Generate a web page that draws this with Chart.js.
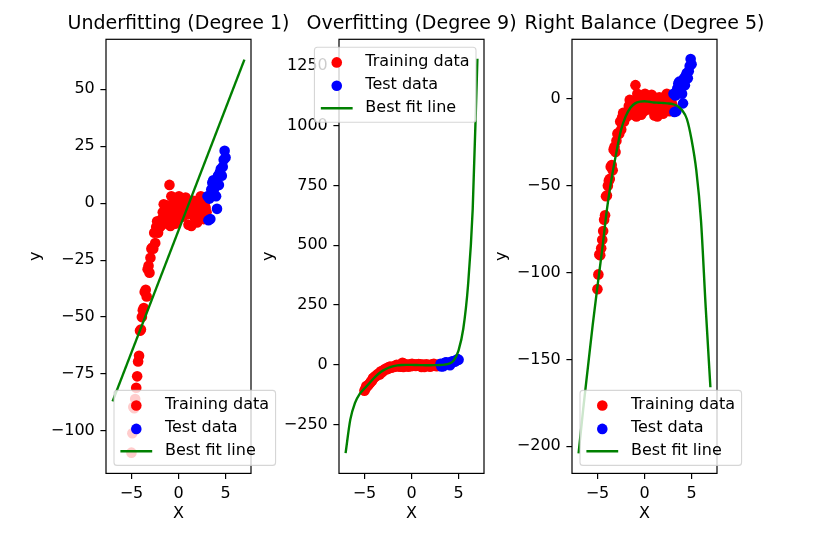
<!DOCTYPE html>
<html>
<head>
<meta charset="utf-8">
<script src="https://cdn.jsdelivr.net/npm/chart.js@4.4.1/dist/chart.umd.min.js"></script>
<style>
  body { margin: 0; background: #fff; }
  #wrap { position: relative; width: 830px; height: 545px; overflow: hidden; }
  canvas { position: absolute; top: 0; }
</style>
</head>
<body>
<div id="wrap">
  <canvas id="under" width="325" height="545" style="left:16px"></canvas>
  <canvas id="over" width="325" height="545" style="left:249px"></canvas>
  <canvas id="right" width="325" height="545" style="left:482px"></canvas>
</div>
<script>
// data (same points in all three panels)
var trainX = [-5.00, -4.90, -4.80, -4.70, -4.60, -4.49, -4.39, -4.29, -4.19, -4.09,
    -3.99, -3.89, -3.79, -3.69, -3.59, -3.48, -3.38, -3.28, -3.18, -3.08,
    -2.98, -2.88, -2.78, -2.68, -2.58, -2.47, -2.37, -2.27, -2.17, -2.07,
    -1.97, -1.87, -1.77, -1.67, -1.57, -1.46, -1.36, -1.26, -1.16, -1.06,
    -0.96, -0.86, -0.76, -0.66, -0.56, -0.45, -0.35, -0.25, -0.15, -0.05,
    0.05, 0.15, 0.25, 0.35, 0.45, 0.56, 0.66, 0.76, 0.86, 0.96,
    1.06, 1.16, 1.26, 1.36, 1.46, 1.57, 1.67, 1.77, 1.87, 1.97,
    2.07, 2.17, 2.27, 2.37, 2.47, 2.58, 2.68, 2.78, 2.88, 2.98];
var trainY = [-109.5, -101, -89.5, -90, -86, -81, -76, -69.5, -67, -56,
    -55.5, -50, -47, -46, -39, -38, -41, -29, -27.5, -30.5,
    -24, -20, -19.5, -20, -13, -17.5, -10.5, -8, -13, -11,
    -8.5, -10, -7, -4, -0.5, -8, -6, -1, -9, -4,
    8, -10, 3, -6, -3.5, 0.5, -9, -2, 1.5, -7,
    3, -4, -1, 1.5, -6, 0, -3, 2.5, -5, 1,
    -9.5, -2, 0.5, -10, -3, 1, -6, -1, -4, -8.5,
    -2, 1.5, -5, 3, -0.5, -3.5, -7, 0, -2, -4];
var testX = [3.08, 3.18, 3.28, 3.38, 3.48, 3.59, 3.69, 3.79, 3.89, 3.99,
    4.09, 4.19, 4.29, 4.39, 4.49, 4.60, 4.70, 4.80, 4.90, 5.00];
var testY = [3, -7.5, 2, -7, 6, 9, 10, 4, 7, 3,
    -2.5, 12, 8, 13.5, 15, 12, 16, 19, 23, 20];

// fitted curves, read at x = -7 .. 7
var fitX1 = [-7, 7];
var fit1Y = [-87, 63];
var fitX = [-7, -6.5, -6, -5.5, -5, -4.5, -4, -3.5, -3, -2.5, -2, -1.5, -1, -0.5, 0,
    0.5, 1, 1.5, 2, 2.5, 3, 3.5, 4, 4.5, 5, 5.5, 6, 6.5, 7];
var fit9Y = [-370, -230, -160, -122, -100, -79, -57, -38, -24, -14, -7, -3, -1.5, -1, -1,
    -1.5, -2, -2.5, -2.5, -2, -1.5, 0, 4, 18, 60, 150, 330, 650, 1280];
var fit5Y = [-204, -178, -154, -130, -108, -87, -64, -46, -31, -18, -10, -5, -2.5, -1.5, -1.3,
    -1.6, -2, -2.1, -2.3, -2.5, -2.9, -4, -6.5, -11.5, -23.5, -41, -70, -120, -166];

var xTicks = [-5, 0, 5];
var yTicks1 = [-100, -75, -50, -25, 0, 25, 50];
var yTicks9 = [-250, 0, 250, 500, 750, 1000, 1250];
var yTicks5 = [-200, -150, -100, -50, 0];

var FONT = 'DejaVu Sans';

function pairs(xs, ys) {
    return xs.map(function (x, i) { return { x: x, y: ys[i] }; });
}

function fmt(v) {
    return v < 0 ? '\u2212' + Math.abs(v) : String(v);
}

// black frame round the plot area, like matplotlib spines
var boxPlugin = {
    id: 'box',
    afterDatasetsDraw: function (chart) {
        var a = chart.chartArea, ctx = chart.ctx;
        ctx.save();
        ctx.strokeStyle = '#000';
        ctx.lineWidth = 1.2;
        ctx.strokeRect(a.left, a.top, a.right - a.left, a.bottom - a.top);
        ctx.restore();
    }
};

// matplotlib-style legend box drawn over the axes
var mplLegend = {
    id: 'mplLegend',
    afterDraw: function (chart, args, opts) {
        var ctx = chart.ctx, a = chart.chartArea;
        var pad = 6.4, handle = 31.8, gap = 12.7, rowH = 15.4, sp = 8;
        var sets = chart.data.datasets;
        ctx.save();
        ctx.font = '16px "' + FONT + '"';
        var tw = 0;
        sets.forEach(function (d) { tw = Math.max(tw, ctx.measureText(d.label).width); });
        var w = pad + handle + gap + tw + pad;
        var h = pad * 2 + rowH * sets.length + sp * (sets.length - 1);
        var x = opts.loc === 'upper right' ? a.right - 8 - w : a.left + 8;
        var y = opts.loc === 'upper right' ? a.top + 8 : a.bottom - 8 - h;
        ctx.beginPath();
        ctx.roundRect(x, y, w, h, 3);
        ctx.fillStyle = 'rgba(255,255,255,0.8)';
        ctx.fill();
        ctx.strokeStyle = 'rgba(204,204,204,0.8)';
        ctx.lineWidth = 1.1;
        ctx.stroke();
        sets.forEach(function (d, i) {
            var cy = y + pad + rowH / 2 + i * (rowH + sp);
            var hx = x + pad;
            if (d.showLine) {
                ctx.strokeStyle = d.borderColor;
                ctx.lineWidth = 2.4;
                ctx.beginPath();
                ctx.moveTo(hx, cy);
                ctx.lineTo(hx + handle, cy);
                ctx.stroke();
            } else {
                ctx.fillStyle = d.backgroundColor;
                ctx.beginPath();
                ctx.arc(hx + handle / 2, cy + 1, 5.3, 0, Math.PI * 2);
                ctx.fill();
            }
            ctx.fillStyle = '#000';
            ctx.textBaseline = 'middle';
            ctx.textAlign = 'left';
            ctx.fillText(d.label, hx + handle + gap, cy);
        });
        ctx.restore();
    }
};

function makeChart(id, title, fx, fy, yMin, yMax, yTicks, loc) {
    var axisGrid = { drawOnChartArea: false, drawTicks: true, tickLength: 5.6, color: '#000', lineWidth: 1.2 };
    return new Chart(document.getElementById(id), {
        type: 'scatter',
        data: {
            datasets: [{
                label: 'Training data',
                data: pairs(trainX, trainY),
                backgroundColor: '#ff0000',
                pointBorderWidth: 0,
                pointRadius: 5.3,
                order: 3,
                clip: 0
            }, {
                label: 'Test data',
                data: pairs(testX, testY),
                backgroundColor: '#0000ff',
                pointBorderWidth: 0,
                pointRadius: 5.3,
                order: 2,
                clip: 0
            }, {
                label: 'Best fit line',
                data: pairs(fx, fy),
                showLine: true,
                borderColor: '#008000',
                backgroundColor: '#008000',
                borderWidth: 2.4,
                pointRadius: 0,
                cubicInterpolationMode: 'monotone',
                fill: false,
                order: 1,
                clip: 0
            }]
        },
        options: {
            responsive: false,
            animation: false,
            devicePixelRatio: 1,
            plugins: {
                legend: { display: false },
                tooltip: { enabled: false },
                title: {
                    display: true,
                    text: title,
                    color: '#000',
                    font: { family: FONT, size: 19, weight: 'normal' },
                    padding: { top: 12.6, bottom: 3.9 }
                },
                mplLegend: { loc: loc }
            },
            scales: {
                x: {
                    type: 'linear',
                    min: -7.7,
                    max: 7.7,
                    afterBuildTicks: function (s) { s.ticks = xTicks.map(function (v) { return { value: v }; }); },
                    afterFit: function (s) { s.height = 71.6; },
                    grid: axisGrid,
                    border: { display: false },
                    ticks: { color: '#000', font: { family: FONT, size: 16 }, padding: 5.6, maxRotation: 0, autoSkip: false, callback: fmt },
                    title: { display: true, text: 'X', color: '#000', font: { family: FONT, size: 16 }, padding: { top: 0, bottom: 21.4 } }
                },
                y: {
                    type: 'linear',
                    min: yMin,
                    max: yMax,
                    afterBuildTicks: function (s) { s.ticks = yTicks.map(function (v) { return { value: v }; }); },
                    afterFit: function (s) { s.width = 90; },
                    grid: axisGrid,
                    border: { display: false },
                    ticks: { color: '#000', font: { family: FONT, size: 16 }, padding: 5.6, autoSkip: false, callback: fmt },
                    title: { display: true, text: 'y', color: '#000', font: { family: FONT, size: 16 }, padding: { top: 10.4, bottom: 0 } }
                },
                // empty right axis, only to keep the plot box centred under the title
                yr: {
                    type: 'linear',
                    position: 'right',
                    afterFit: function (s) { s.width = 90; },
                    grid: { display: false },
                    border: { display: false },
                    ticks: { display: false }
                }
            }
        },
        plugins: [boxPlugin, mplLegend]
    });
}

makeChart('under', 'Underfitting (Degree 1)', fitX1, fit1Y, -118.6, 71.9, yTicks1, 'lower left');
makeChart('over', 'Overfitting (Degree 9)', fitX, fit9Y, -455, 1361, yTicks9, 'upper right');
makeChart('right', 'Right Balance (Degree 5)', fitX, fit5Y, -215.6, 34.4, yTicks5, 'lower left');
</script>
</body>
</html>
